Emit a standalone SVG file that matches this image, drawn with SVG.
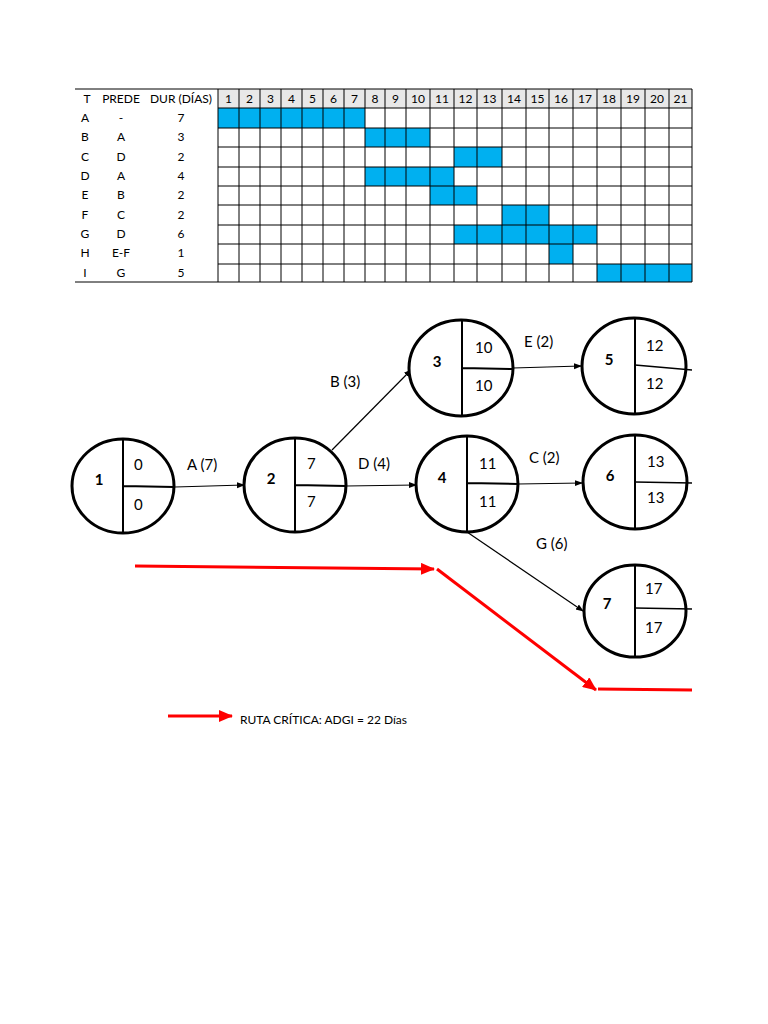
<svg xmlns="http://www.w3.org/2000/svg" width="768" height="1024" viewBox="0 0 768 1024">
<style>
text{font-family:Lato,"Open Sans","Liberation Sans",sans-serif;fill:#000}
.t{font-size:12px;text-anchor:middle}
.g{fill:none;stroke:#000;stroke-width:1}
.f{fill:#00b0f0}
.n{fill:#fff;stroke:#000;stroke-width:3}
.d{stroke:#000;stroke-width:2}
.v{font-size:15px}
.id{font-size:15px;font-weight:bold;text-anchor:middle}
.lb{font-size:15px}
.c{stroke:#000;stroke-width:1.2;fill:none;marker-end:url(#a)}
.r{stroke:#ff0000;stroke-width:3;fill:none;marker-end:url(#ra)}
</style>
<defs>
<marker id="a" markerWidth="8" markerHeight="8" refX="7" refY="4" orient="auto" markerUnits="userSpaceOnUse"><path d="M0,1 L8,4 L0,7Z" fill="#000"/></marker>
<marker id="ra" markerWidth="14" markerHeight="12" refX="13" refY="6" orient="auto" markerUnits="userSpaceOnUse"><path d="M0,0 L14,6 L0,12Z" fill="#ff0000"/></marker>
</defs>
<g id="table">
<rect x="218" y="89" width="474" height="19" fill="#e8e8e8"/>
<g class="f">
<rect x="218" y="108" width="147" height="20"/>
<rect x="365" y="128" width="65" height="19"/>
<rect x="454" y="147" width="48" height="20"/>
<rect x="365" y="167" width="89" height="19"/>
<rect x="430" y="186" width="47" height="19"/>
<rect x="502" y="205" width="47" height="20"/>
<rect x="454" y="225" width="143" height="19"/>
<rect x="549" y="244" width="24" height="20"/>
<rect x="597" y="264" width="95" height="18"/>
</g>
<path class="g" d="M75,89H692M75,282H692M218,108H692M218,128H692M218,147H692M218,167H692M218,186H692M218,205H692M218,225H692M218,244H692M218,264H692
M218,89V282M239,89V282M260,89V282M281,89V282M302,89V282M323,89V282M344,89V282M365,89V282M385,89V282M406,89V282M430,89V282M454,89V282M477,89V282M502,89V282M526,89V282M549,89V282M573,89V282M597,89V282M621,89V282M645,89V282M669,89V282M692,89V282"/>
<g class="t">
<text x="87" y="103">T</text><text x="121" y="103">PREDE</text><text x="181" y="103">DUR (DÍAS)</text>
<text x="228.5" y="103">1</text><text x="249.5" y="103">2</text><text x="270.5" y="103">3</text><text x="291.5" y="103">4</text><text x="312.5" y="103">5</text><text x="333.5" y="103">6</text><text x="354.5" y="103">7</text><text x="375" y="103">8</text><text x="395.5" y="103">9</text><text x="418" y="103">10</text><text x="442" y="103">11</text><text x="465.5" y="103">12</text><text x="489.5" y="103">13</text><text x="514" y="103">14</text><text x="537.5" y="103">15</text><text x="561" y="103">16</text><text x="585" y="103">17</text><text x="609" y="103">18</text><text x="633" y="103">19</text><text x="657" y="103">20</text><text x="680.5" y="103">21</text>
<text x="85" y="122">A</text><text x="121" y="122">-</text><text x="181" y="122">7</text>
<text x="85" y="141">B</text><text x="121" y="141">A</text><text x="181" y="141">3</text>
<text x="85" y="161">C</text><text x="121" y="161">D</text><text x="181" y="161">2</text>
<text x="85" y="180">D</text><text x="121" y="180">A</text><text x="181" y="180">4</text>
<text x="85" y="199">E</text><text x="121" y="199">B</text><text x="181" y="199">2</text>
<text x="85" y="219">F</text><text x="121" y="219">C</text><text x="181" y="219">2</text>
<text x="85" y="238">G</text><text x="121" y="238">D</text><text x="181" y="238">6</text>
<text x="85" y="257">H</text><text x="121" y="257">E-F</text><text x="181" y="257">1</text>
<text x="85" y="277">I</text><text x="121" y="277">G</text><text x="181" y="277">5</text>
</g>
</g>
<g id="connectors">
<path class="c" d="M175,487L244,485"/>
<path class="c" d="M332,450L411,370"/>
<path class="c" d="M346,486L416,485"/>
<path class="c" d="M513,368L581,366"/>
<path class="c" d="M518,484L582,483"/>
<path class="c" d="M467,532L583,611"/>
<text class="lb" x="187" y="470">A (7)</text>
<text class="lb" x="330" y="387">B (3)</text>
<text class="lb" x="358" y="469">D (4)</text>
<text class="lb" x="524" y="347">E (2)</text>
<text class="lb" x="529" y="463">C (2)</text>
<text class="lb" x="536" y="549">G (6)</text>
</g>
<g id="n1"><ellipse class="n" cx="123" cy="486" rx="51" ry="47"/><path class="d" d="M123,439V533M123,486L174,487"/><text class="id" x="99" y="485">1</text><text class="v" x="134" y="470">0</text><text class="v" x="134" y="510">0</text></g>
<g id="n2"><ellipse class="n" cx="295" cy="485" rx="51" ry="47"/><path class="d" d="M295,438V532M295,485L346,486"/><text class="id" x="271" y="484">2</text><text class="v" x="307" y="469">7</text><text class="v" x="307" y="507">7</text></g>
<g id="n3"><ellipse class="n" cx="461" cy="368" rx="52" ry="48"/><path class="d" d="M462,320V416M462,368L513,369"/><text class="id" x="437" y="367">3</text><text class="v" x="475" y="353">10</text><text class="v" x="475" y="391">10</text></g>
<g id="n4"><ellipse class="n" cx="467" cy="484" rx="51" ry="48"/><path class="d" d="M467,436V532M467,483L518,484"/><text class="id" x="442" y="483">4</text><text class="v" x="479" y="469">11</text><text class="v" x="479" y="507">11</text></g>
<g id="n5"><ellipse class="n" cx="634" cy="366" rx="52" ry="48"/><path class="d" d="M635,318V414"/><path d="M635,365L692,370" stroke="#000" stroke-width="1.5"/><text class="id" x="609" y="365">5</text><text class="v" x="646" y="351">12</text><text class="v" x="646" y="389">12</text></g>
<g id="n6"><ellipse class="n" cx="635" cy="482" rx="52" ry="47"/><path class="d" d="M635,435V530"/><path d="M635,482L692,483" stroke="#000" stroke-width="1.5"/><text class="id" x="610" y="481">6</text><text class="v" x="647" y="467">13</text><text class="v" x="647" y="503">13</text></g>
<g id="n7"><ellipse class="n" cx="635" cy="611" rx="51" ry="46"/><path class="d" d="M635,565V657"/><path d="M635,608L692,609" stroke="#000" stroke-width="1.5"/><text class="id" x="607" y="609">7</text><text class="v" x="645" y="594">17</text><text class="v" x="645" y="633">17</text></g>
<g id="critical">
<path class="r" d="M135,566L434,569"/>
<path class="r" d="M437,569L596,690"/>
<path d="M598,689L692,690" stroke="#ff0000" stroke-width="3"/>
<path class="r" d="M168,716L232,716"/>
<text x="240" y="724" style="font-size:12px">RUTA CRÍTICA:  ADGI = 22 Días</text>
</g>
</svg>
